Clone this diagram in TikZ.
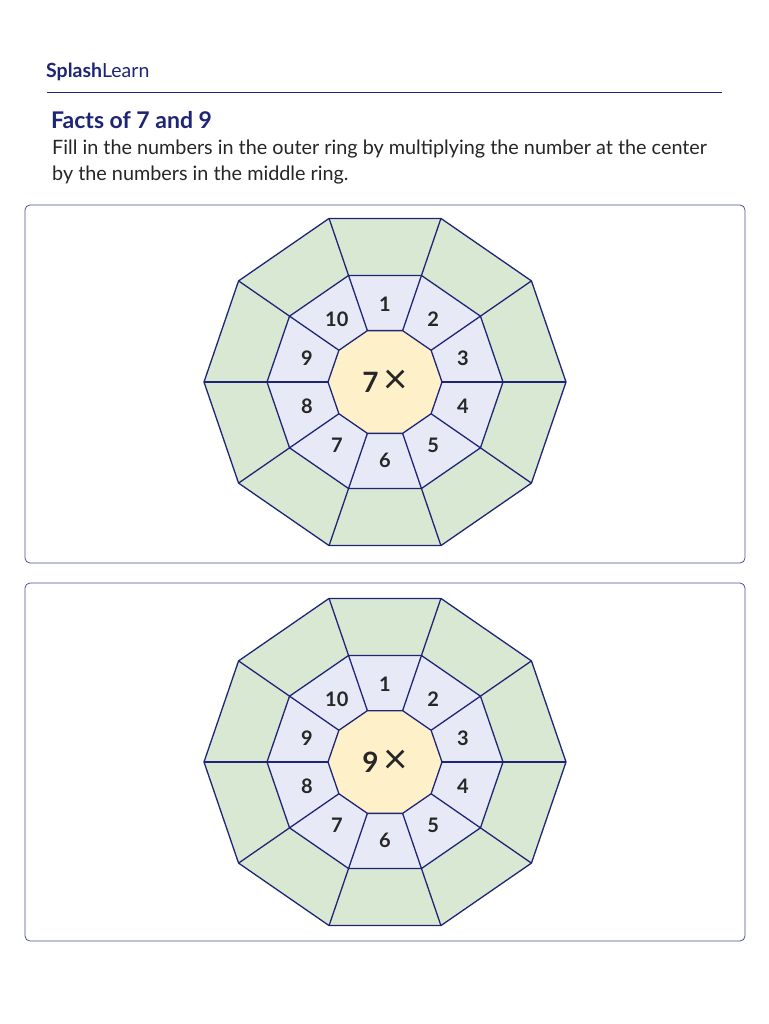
\documentclass[tikz,border=0pt]{standalone}
\usepackage{fontspec}
\setmainfont{Lato}
\definecolor{navy}{HTML}{1E2577}
\definecolor{ogreen}{HTML}{D9E8D2}
\definecolor{mlav}{HTML}{E8E9F6}
\definecolor{cyel}{HTML}{FEF0C9}
\definecolor{frame}{HTML}{4A5296}
\tikzset{
 ringline/.style={draw=navy,line width=1.3pt,line join=round},
 numlab/.style={font=\fontsize{20}{20}\selectfont\fontseries{sb}\selectfont\color{black!85}},
 box/.style={draw=frame,line width=0.8pt,rounded corners=5pt}
}
\newcommand{\wheel}[3]{%
 \begin{scope}[shift={(#1,#2)}]
  \fill[ogreen] (0:181 and 172) \foreach \a in {36,72,...,324}{ -- (\a:181 and 172)} -- cycle;
  \fill[mlav] (0:118 and 112) \foreach \a in {36,72,...,324}{ -- (\a:118 and 112)} -- cycle;
  \fill[cyel] (0:57 and 54) \foreach \a in {36,72,...,324}{ -- (\a:57 and 54)} -- cycle;
  \foreach \a in {0,36,...,324}{
    \draw[ringline] (\a:57 and 54) -- (\a:181 and 172);
  }
  \draw[ringline] (0:181 and 172) \foreach \a in {36,72,...,324}{ -- (\a:181 and 172)} -- cycle;
  \draw[ringline] (0:118 and 112) \foreach \a in {36,72,...,324}{ -- (\a:118 and 112)} -- cycle;
  \draw[ringline] (0:57 and 54) \foreach \a in {36,72,...,324}{ -- (\a:57 and 54)} -- cycle;
  \foreach \n [evaluate=\n as \ang using 36*\n-126] in {1,...,10}{
    \node[numlab] (n#3\n) at (\ang:82 and 78) {\n};
  }
  \node[font=\fontsize{28}{28}\selectfont\bfseries\color{black!85}] (c#3) at (0,0) {#3\,\raisebox{-1pt}{\fontsize{42}{42}\selectfont\mdseries ×}};
 \end{scope}}
\begin{document}
\begin{tikzpicture}[x=1pt,y=-1pt]
\useasboundingbox (0,0) rectangle (768,1024);
\fill[white] (0,0) rectangle (768,1024);
\node[anchor=west,font=\fontsize{19.5}{19.5}\selectfont\bfseries,text=navy,inner sep=0] (logo) at (46,72) {Splash\fontseries{m}\selectfont Learn};
\draw[navy,line width=0.8pt] (47,92) -- (722,92);
\node[anchor=west,font=\fontsize{23}{23}\selectfont\bfseries,text=navy,inner sep=0] (title) at (51,120) {Facts of 7 and 9};
\node[anchor=north west,align=left,font=\fontsize{19.8}{26}\selectfont,text=black!85,inner sep=0] (instr) at (52,140) {Fill in the numbers in the outer ring by multiplying the number at the center\\by the numbers in the middle ring.};
\draw[box] (25,205) rectangle (745,563);
\draw[box] (25,583) rectangle (745,941);
\wheel{385}{382}{7}
\wheel{385}{762}{9}
\end{tikzpicture}
\end{document}
